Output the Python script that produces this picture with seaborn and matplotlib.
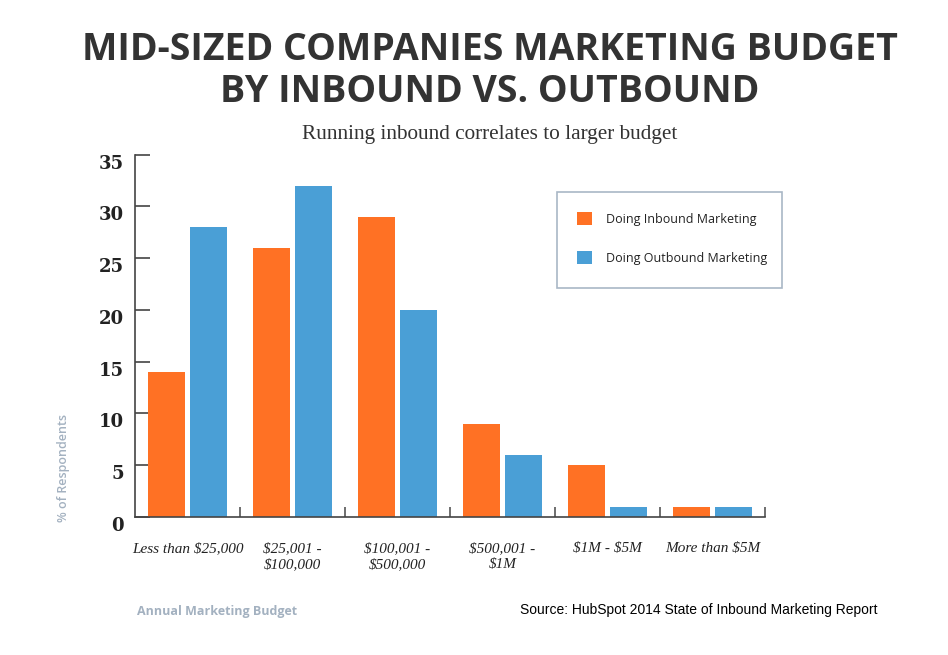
import numpy as np
import pandas as pd
import seaborn as sns
import matplotlib.pyplot as plt
from matplotlib.patches import Patch, Rectangle
from matplotlib.transforms import ScaledTranslation

budgets = ['Less than $25,000', '$25,001 -\n$100,000', '$100,001 -\n$500,000',
           '$500,001 -\n$1M', '$1M - $5M', 'More than $5M']
inbound = [14, 26, 29, 9, 5, 1]
outbound = [28, 32, 20, 6, 1, 1]
series = ['Doing Inbound Marketing', 'Doing Outbound Marketing']
colors = ['#FF7124', '#4A9FD6']

df = pd.DataFrame({'budget': budgets * 2,
                   'pct': inbound + outbound,
                   'kind': [series[0]] * 6 + [series[1]] * 6})

sns.set_style('white')
plt.rcParams['text.parse_math'] = False
fig = plt.figure(figsize=(9.48, 6.55), dpi=100)
ax = fig.add_axes([0.1424, 0.2107, 0.6646, 0.5533])

sns.barplot(data=df, x='budget', y='pct', hue='kind', palette=colors,
            width=0.8, gap=0.1, linewidth=0, saturation=1, ax=ax, legend=False)

ax.set_xlim(-0.5, 5.5)
ax.set_ylim(0, 35)
ax.set_yticks(range(0, 36, 5))
ax.set_xticks(range(6))
ax.set_xticks(np.arange(0.5, 6, 1), minor=True)
for s in ['top', 'right']:
    ax.spines[s].set_visible(False)
for s in ['left', 'bottom']:
    ax.spines[s].set_color('#444444')
    ax.spines[s].set_linewidth(1.2)
ax.tick_params(axis='y', left=True, direction='in', length=11, width=1.2, color='#444444', pad=8)
ax.tick_params(axis='x', which='major', bottom=True, length=0, pad=18)
ax.tick_params(axis='x', which='minor', bottom=True, direction='in', length=7, width=1.2,
               color='#555555')
ax.set_xlabel('')
ax.set_ylabel('')
# y labels sit a little below their ticks in the original
shift = ScaledTranslation(0, -7 / 100, fig.dpi_scale_trans)
for tk in ax.yaxis.get_major_ticks():
    lab = tk.label1
    lab.set_transform(lab.get_transform() + shift)
    lab.set_fontfamily('DejaVu Serif')
    lab.set_fontweight('bold')
    lab.set_fontsize(13)
    lab.set_color('#222222')
for lab in ax.get_xticklabels():
    lab.set_fontfamily('Liberation Serif')
    lab.set_fontstyle('italic')
    lab.set_fontsize(11)
    lab.set_color('#222222')
    lab.set_verticalalignment('top')
    lab.set_linespacing(1.3)

# legend box drawn by hand, entries placed inside
fig.patches.append(Rectangle((557 / 948, 1 - 288 / 655), 225 / 948, 96 / 655,
                             transform=fig.transFigure, facecolor='white',
                             edgecolor='#A9B7C6', linewidth=1.2, zorder=3))
handles = [Patch(facecolor=c, edgecolor='none') for c in colors]
leg = fig.legend(handles, series, loc='upper left', bbox_to_anchor=(577 / 948, 1 - 212 / 655),
                 frameon=False, handlelength=1.2, handleheight=1.2, handletextpad=1.1,
                 borderpad=0, labelspacing=2.05, borderaxespad=0,
                 prop={'family': 'Open Sans', 'size': 9})
leg.set_zorder(4)
for t in leg.get_texts():
    t.set_color('#222222')

fig.text(0.517, 1 - 50 / 655, 'MID-SIZED COMPANIES MARKETING BUDGET',
         ha='center', va='center', fontfamily='Open Sans', fontweight='bold',
         fontsize=27, color='#333333')
fig.text(0.517, 1 - 92 / 655, 'BY INBOUND VS. OUTBOUND',
         ha='center', va='center', fontfamily='Open Sans', fontweight='bold',
         fontsize=27, color='#333333')
fig.text(0.517, 1 - 134 / 655, 'Running inbound correlates to larger budget', ha='center', va='center',
         fontfamily='Liberation Serif', fontsize=15.3, color='#333333')
fig.text(64 / 948, 1 - 468 / 655, '% of Respondents', rotation=90, ha='center', va='center',
         fontfamily='Open Sans', fontweight='semibold', fontsize=9, color='#A3B1C0')
fig.text(137 / 948, 1 - 611 / 655, 'Annual Marketing Budget', ha='left', va='center',
         fontfamily='Open Sans', fontweight='bold', fontsize=9, color='#A3B1C0')
fig.text(520 / 948, 1 - 610 / 655, 'Source: HubSpot 2014 State of Inbound Marketing Report',
         ha='left', va='center', fontfamily='Liberation Sans', fontsize=10, color='#000000')

fig.savefig('out.png', dpi=100)
